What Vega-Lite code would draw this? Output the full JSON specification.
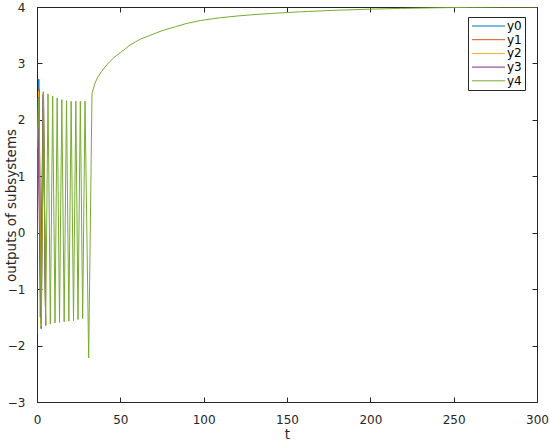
{
  "$schema": "https://vega.github.io/schema/vega-lite/v6.json",
  "width": 500,
  "height": 395,
  "autosize": "none",
  "padding": {"left": 37, "top": 7, "right": 13, "bottom": 40},
  "background": "white",
  "config": {
    "font": "DejaVu Sans",
    "view": {"stroke": "#262626", "strokeWidth": 1},
    "axis": {"grid": false, "domain": false, "tickColor": "#262626", "tickSize": -5, "labelColor": "#262626", "labelFontSize": 12, "labelFont": "DejaVu Sans", "labelFlush": false, "titleFont": "DejaVu Sans", "titleFontWeight": "normal", "titleColor": "#262626", "titleFontSize": 13.5},
    "legend": {"orient": "none", "legendX": 431, "legendY": 10, "title": null, "fillColor": "white", "strokeColor": "#262626", "padding": 3, "symbolType": "M-1,0H5.6", "symbolSize": 100, "symbolStrokeWidth": 1, "rowPadding": 1.7, "labelOffset": 24, "labelFontSize": 12, "labelColor": "#000000", "labelFont": "DejaVu Sans"}
  },
  "data": {"values": [
    {"t": 0, "v": -0.2, "s": "y0"}, {"t": 1.1, "v": 2.72, "s": "y0"}, {"t": 2.5, "v": -1.7, "s": "y0"}, {"t": 3.9, "v": 2.45, "s": "y0"}, {"t": 5.2, "v": -1.64, "s": "y0"},
    {"t": 0, "v": -0.35, "s": "y1"}, {"t": 1.2, "v": 2.55, "s": "y1"}, {"t": 2.6, "v": -1.68, "s": "y1"}, {"t": 3.9, "v": 2.45, "s": "y1"}, {"t": 5.2, "v": -1.64, "s": "y1"},
    {"t": 0, "v": 0.05, "s": "y2"}, {"t": 0.9, "v": 2.5, "s": "y2"}, {"t": 2.3, "v": -1.66, "s": "y2"}, {"t": 3.8, "v": 2.48, "s": "y2"}, {"t": 5.2, "v": -1.64, "s": "y2"},
    {"t": 0, "v": -1.8, "s": "y3"}, {"t": 0.6, "v": 2.4, "s": "y3"}, {"t": 2.0, "v": -1.5, "s": "y3"}, {"t": 3.7, "v": 2.45, "s": "y3"}, {"t": 5.2, "v": -1.64, "s": "y3"},
    {"t": 0, "v": 1.5, "s": "y4"}, {"t": 1.0, "v": 2.38, "s": "y4"}, {"t": 2.4, "v": -1.62, "s": "y4"}, {"t": 3.8, "v": 2.5, "s": "y4"}, {"t": 5.2, "v": -1.64, "s": "y4"},
    {"t": 6.6, "v": 2.46, "s": "y4"}, {"t": 8.0, "v": -1.62, "s": "y4"}, {"t": 9.4, "v": 2.42, "s": "y4"}, {"t": 10.8, "v": -1.6, "s": "y4"}, {"t": 12.1, "v": 2.39, "s": "y4"},
    {"t": 13.5, "v": -1.59, "s": "y4"}, {"t": 14.9, "v": 2.36, "s": "y4"}, {"t": 16.3, "v": -1.58, "s": "y4"}, {"t": 17.7, "v": 2.34, "s": "y4"}, {"t": 19.1, "v": -1.57, "s": "y4"},
    {"t": 20.5, "v": 2.33, "s": "y4"}, {"t": 21.9, "v": -1.56, "s": "y4"}, {"t": 23.3, "v": 2.33, "s": "y4"}, {"t": 24.6, "v": -1.54, "s": "y4"}, {"t": 26.0, "v": 2.33, "s": "y4"},
    {"t": 27.4, "v": -1.52, "s": "y4"}, {"t": 28.8, "v": 2.33, "s": "y4"}, {"t": 31.0, "v": -2.22, "s": "y4"}, {"t": 33.0, "v": 2.47, "s": "y4"}, {"t": 34.8, "v": 2.65, "s": "y4"},
    {"t": 36.5, "v": 2.76, "s": "y4"}, {"t": 38.8, "v": 2.86, "s": "y4"}, {"t": 42, "v": 2.98, "s": "y4"}, {"t": 46, "v": 3.1, "s": "y4"}, {"t": 50, "v": 3.19, "s": "y4"},
    {"t": 56, "v": 3.33, "s": "y4"}, {"t": 62, "v": 3.43, "s": "y4"}, {"t": 68, "v": 3.5, "s": "y4"}, {"t": 75, "v": 3.58, "s": "y4"}, {"t": 83, "v": 3.65, "s": "y4"},
    {"t": 90, "v": 3.71, "s": "y4"}, {"t": 98, "v": 3.76, "s": "y4"}, {"t": 110, "v": 3.81, "s": "y4"}, {"t": 120, "v": 3.84, "s": "y4"}, {"t": 128, "v": 3.86, "s": "y4"},
    {"t": 140, "v": 3.885, "s": "y4"}, {"t": 158, "v": 3.915, "s": "y4"}, {"t": 180, "v": 3.943, "s": "y4"}, {"t": 200, "v": 3.962, "s": "y4"}, {"t": 218, "v": 3.975, "s": "y4"},
    {"t": 240, "v": 3.986, "s": "y4"}, {"t": 260, "v": 3.994, "s": "y4"}, {"t": 280, "v": 4.0, "s": "y4"}, {"t": 300, "v": 4.0, "s": "y4"}
  ]},
  "layer": [
    {
      "transform": [{"filter": "datum.s !== 'y4'"}],
      "mark": {"type": "line", "strokeWidth": 1, "clip": true},
      "encoding": {
        "x": {"field": "t", "type": "quantitative", "scale": {"domain": [0, 300], "nice": false}, "axis": {"orient": "bottom", "values": [0, 50, 100, 150, 200, 250, 300], "title": "t", "labelPadding": 17, "titlePadding": 2}},
        "y": {"field": "v", "type": "quantitative", "scale": {"domain": [-3, 4], "nice": false, "zero": false}, "axis": {"orient": "left", "values": [-3, -2, -1, 0, 1, 2, 3, 4], "title": "outputs of subsystems", "labelPadding": 17, "titleX": -19, "titleY": 198, "titleBaseline": "bottom", "titleAngle": -90, "titleAlign": "center"}},
        "stroke": {"field": "s", "type": "nominal", "scale": {"domain": ["y0", "y1", "y2", "y3", "y4"], "range": ["#0072BD", "#D95319", "#EDB120", "#7E2F8E", "#77AC30"]}}
      }
    },
    {
      "transform": [{"filter": "datum.s === 'y4'"}],
      "mark": {"type": "line", "strokeWidth": 1, "clip": true},
      "encoding": {
        "x": {"field": "t", "type": "quantitative", "axis": {"orient": "top", "values": [0, 50, 100, 150, 200, 250, 300], "labels": false, "title": null}},
        "y": {"field": "v", "type": "quantitative", "axis": {"orient": "right", "values": [-3, -2, -1, 0, 1, 2, 3, 4], "labels": false, "title": null}},
        "stroke": {"field": "s", "type": "nominal"}
      }
    }
  ],
  "resolve": {"axis": {"x": "independent", "y": "independent"}}
}
